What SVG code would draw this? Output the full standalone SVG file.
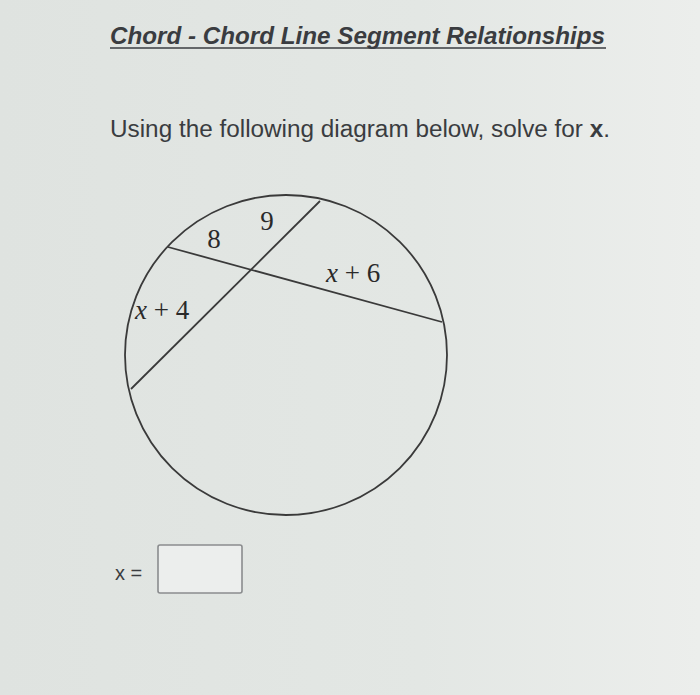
<svg xmlns="http://www.w3.org/2000/svg" width="700" height="695" viewBox="0 0 700 695">
<defs>
<linearGradient id="bg" x1="0" y1="0" x2="1" y2="0">
<stop offset="0" stop-color="#dfe3e0"/>
<stop offset="0.6" stop-color="#e3e7e4"/>
<stop offset="1" stop-color="#eceeec"/>
</linearGradient>
</defs>
<style>
.sans{font-family:"Liberation Sans",Arial,sans-serif;fill:#3a3c40}
.serif{font-family:"Liberation Serif","Times New Roman",serif;fill:#2a2a2a;font-size:27px}
.ln{stroke:#3a3a3a;stroke-width:1.8;fill:none}
</style>
<rect width="700" height="695" fill="url(#bg)"/>
<g id="title">
<text class="sans" x="110" y="44" font-size="24" font-weight="bold" font-style="italic" textLength="495" lengthAdjust="spacingAndGlyphs">Chord - Chord Line Segment Relationships</text>
<line x1="110" y1="48" x2="606" y2="48" stroke="#3a3c40" stroke-width="1.6"/>
</g>
<g id="prompt">
<text class="sans" x="110" y="137" font-size="23" textLength="500" lengthAdjust="spacingAndGlyphs">Using the following diagram below, solve for <tspan font-weight="bold">x</tspan>.</text>
</g>
<g id="circle">
<ellipse class="ln" cx="286" cy="355" rx="161" ry="160"/>
</g>
<g id="connectors">
<line class="ln" x1="168" y1="247" x2="442" y2="322"/>
<line class="ln" x1="320" y1="201" x2="131" y2="389"/>
</g>
<g id="labels">
<text class="serif" x="214" y="248" text-anchor="middle">8</text>
<text class="serif" x="267" y="230" text-anchor="middle">9</text>
<text class="serif" x="326" y="282"><tspan font-style="italic">x</tspan> + 6</text>
<text class="serif" x="135" y="319"><tspan font-style="italic">x</tspan> + 4</text>
</g>
<g id="answer">
<text class="sans" x="115" y="580" font-size="20">x =</text>
<rect x="158" y="545" width="84" height="48" rx="2" fill="#eceeed" stroke="#8a8c8e" stroke-width="1.6"/>
</g>
</svg>
